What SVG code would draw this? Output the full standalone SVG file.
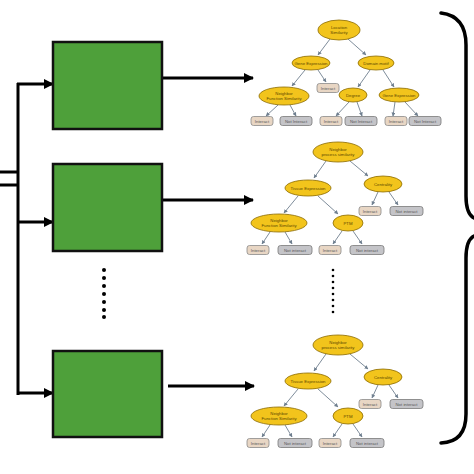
<svg xmlns="http://www.w3.org/2000/svg" width="474" height="474" viewBox="0 0 474 474">
<defs>
<marker id="ah" viewBox="0 0 10 10" refX="9" refY="5" markerWidth="10" markerHeight="10" markerUnits="userSpaceOnUse" orient="auto">
<path d="M0,0 L10,5 L0,10 z" fill="#000"/>
</marker>
<marker id="th" viewBox="0 0 10 10" refX="9" refY="5" markerWidth="4" markerHeight="4" markerUnits="userSpaceOnUse" orient="auto">
<path d="M0,0 L10,5 L0,10 z" fill="#6f7f8f"/>
</marker>
<style>
.box{fill:#4ea03a;stroke:#111;stroke-width:2.5}
.ln{fill:none;stroke:#000;stroke-width:3}
.br{fill:none;stroke:#000;stroke-width:3.5;stroke-linecap:round}
.el{fill:#f2c41c;stroke:#8a6a00;stroke-width:0.8}
.ti{fill:#e8d6c4;stroke:#8a8a8a;stroke-width:0.8}
.tn{fill:#c4c4c8;stroke:#7a7a7a;stroke-width:0.8}
.te{fill:none;stroke:#6f7f8f;stroke-width:0.9}
text{font-family:"Liberation Sans",Arial,sans-serif;font-size:4.3px;fill:#5a4600;text-anchor:middle}
.lt{fill:#555}
</style>
</defs>
<rect width="474" height="474" fill="#fff"/>

<g id="connectors">
<line class="ln" x1="0" y1="172" x2="19" y2="172"/>
<line class="ln" x1="0" y1="185" x2="19" y2="185"/>
<line class="ln" x1="18" y1="83" x2="18" y2="395"/>
<line class="ln" x1="17" y1="84" x2="53" y2="84" marker-end="url(#ah)"/>
<line class="ln" x1="17" y1="222" x2="53" y2="222" marker-end="url(#ah)"/>
<line class="ln" x1="17" y1="393" x2="53" y2="393" marker-end="url(#ah)"/>
<line class="ln" x1="162" y1="78" x2="253" y2="78" marker-end="url(#ah)"/>
<line class="ln" x1="162" y1="200" x2="253" y2="200" marker-end="url(#ah)"/>
<line class="ln" x1="168" y1="386" x2="254" y2="386" marker-end="url(#ah)"/>
</g>

<g id="box1"><rect class="box" x="53" y="42" width="109" height="87"/></g>
<g id="box2"><rect class="box" x="53" y="164" width="109" height="87"/></g>
<g id="box3"><rect class="box" x="53" y="351" width="109" height="86"/></g>

<g id="dots" fill="#000">
<circle cx="104" cy="270" r="2"/>
<circle cx="104" cy="278" r="2"/>
<circle cx="104" cy="286" r="2"/>
<circle cx="104" cy="294" r="2"/>
<circle cx="104" cy="302" r="2"/>
<circle cx="104" cy="310" r="2"/>
<circle cx="104" cy="317" r="2"/>
</g>
<g id="dots2" fill="#000">
<circle cx="333" cy="270" r="1.3"/>
<circle cx="333" cy="276" r="1.3"/>
<circle cx="333" cy="282" r="1.3"/>
<circle cx="333" cy="288" r="1.3"/>
<circle cx="333" cy="294" r="1.3"/>
<circle cx="333" cy="300" r="1.3"/>
<circle cx="333" cy="306" r="1.3"/>
<circle cx="333" cy="312" r="1.3"/>
</g>

<g id="brace">
<path class="br" d="M441,13 Q466,16 466,45 L466,196 Q466,214 474,218"/>
<path class="br" d="M474,236 Q466,240 466,258 L466,414 Q466,442 441,443"/>
</g>

<g id="tree1">
<g class="tedges">
<line class="te" x1="330" y1="39" x2="318" y2="55" marker-end="url(#th)"/>
<line class="te" x1="348" y1="39" x2="366" y2="55" marker-end="url(#th)"/>
<line class="te" x1="305" y1="70" x2="292" y2="86" marker-end="url(#th)"/>
<line class="te" x1="318" y1="70" x2="326" y2="82" marker-end="url(#th)"/>
<line class="te" x1="370" y1="70" x2="358" y2="87" marker-end="url(#th)"/>
<line class="te" x1="383" y1="70" x2="394" y2="87" marker-end="url(#th)"/>
<line class="te" x1="278" y1="105" x2="266" y2="116" marker-end="url(#th)"/>
<line class="te" x1="290" y1="105" x2="296" y2="116" marker-end="url(#th)"/>
<line class="te" x1="349" y1="102" x2="336" y2="116" marker-end="url(#th)"/>
<line class="te" x1="357" y1="102" x2="362" y2="116" marker-end="url(#th)"/>
<line class="te" x1="395" y1="102" x2="393" y2="116" marker-end="url(#th)"/>
<line class="te" x1="405" y1="102" x2="418" y2="116" marker-end="url(#th)"/>
</g>
<g id="t1-root"><ellipse class="el" cx="339" cy="30" rx="21" ry="10"/><text x="339" y="28.5">Location</text><text x="339" y="34">Similarity</text></g>
<g id="t1-ge"><ellipse class="el" cx="311" cy="63" rx="19" ry="7"/><text x="311" y="64.5">Gene Expression</text></g>
<g id="t1-dm"><ellipse class="el" cx="376" cy="63" rx="18" ry="7"/><text x="376" y="64.5">Domain motif</text></g>
<g id="t1-nfs"><ellipse class="el" cx="284" cy="96" rx="25" ry="9"/><text x="284" y="94.5">Neighbor</text><text x="284" y="100">Function Similarity</text></g>
<g id="t1-i0"><rect class="ti" x="317" y="83.5" width="22" height="9" rx="2.5"/><text class="lt" x="328" y="89.5">Interact</text></g>
<g id="t1-deg"><ellipse class="el" cx="353" cy="95" rx="14" ry="7"/><text x="353" y="96.5">Degree</text></g>
<g id="t1-ge2"><ellipse class="el" cx="399" cy="95" rx="20" ry="7"/><text x="399" y="96.5">Gene Expression</text></g>
<g id="t1-l1"><rect class="ti" x="251" y="116.5" width="22" height="9" rx="2.5"/><text class="lt" x="262" y="122.5">Interact</text></g>
<g id="t1-l2"><rect class="tn" x="280" y="116.5" width="32" height="9" rx="2.5"/><text class="lt" x="296" y="122.5">Not Interact</text></g>
<g id="t1-l3"><rect class="ti" x="320" y="116.5" width="22" height="9" rx="2.5"/><text class="lt" x="331" y="122.5">Interact</text></g>
<g id="t1-l4"><rect class="tn" x="345" y="116.5" width="32" height="9" rx="2.5"/><text class="lt" x="361" y="122.5">Not Interact</text></g>
<g id="t1-l5"><rect class="ti" x="385" y="116.5" width="22" height="9" rx="2.5"/><text class="lt" x="396" y="122.5">Interact</text></g>
<g id="t1-l6"><rect class="tn" x="409" y="116.5" width="32" height="9" rx="2.5"/><text class="lt" x="425" y="122.5">Not Interact</text></g>
</g>

<g id="tree2">
<g class="tedges">
<line class="te" x1="326" y1="161" x2="314" y2="178" marker-end="url(#th)"/>
<line class="te" x1="350" y1="161" x2="368" y2="176" marker-end="url(#th)"/>
<line class="te" x1="378" y1="192" x2="372" y2="205" marker-end="url(#th)"/>
<line class="te" x1="389" y1="192" x2="398" y2="205" marker-end="url(#th)"/>
<line class="te" x1="298" y1="196" x2="284" y2="213" marker-end="url(#th)"/>
<line class="te" x1="318" y1="196" x2="338" y2="214" marker-end="url(#th)"/>
<line class="te" x1="270" y1="232" x2="262" y2="244" marker-end="url(#th)"/>
<line class="te" x1="285" y1="232" x2="292" y2="244" marker-end="url(#th)"/>
<line class="te" x1="342" y1="231" x2="333" y2="244" marker-end="url(#th)"/>
<line class="te" x1="353" y1="231" x2="362" y2="244" marker-end="url(#th)"/>
</g>
<g id="t2-root"><ellipse class="el" cx="338" cy="152" rx="25" ry="10"/><text x="338" y="150.5">Neighbor</text><text x="338" y="156">process similarity</text></g>
<g id="t2-te"><ellipse class="el" cx="308" cy="188" rx="23" ry="8"/><text x="308" y="189.5">Tissue Expression</text></g>
<g id="t2-ce"><ellipse class="el" cx="383" cy="184" rx="19" ry="8"/><text x="383" y="185.5">Centrality</text></g>
<g id="t2-i0"><rect class="ti" x="359" y="206.5" width="22" height="9" rx="2.5"/><text class="lt" x="370" y="212.5">Interact</text></g>
<g id="t2-n0"><rect class="tn" x="390" y="206.5" width="33" height="9" rx="2.5"/><text class="lt" x="406.5" y="212.5">Not interact</text></g>
<g id="t2-nfs"><ellipse class="el" cx="279" cy="223" rx="28" ry="9"/><text x="279" y="221.5">Neighbor</text><text x="279" y="227">Function Similarity</text></g>
<g id="t2-ptm"><ellipse class="el" cx="348" cy="223" rx="15" ry="8"/><text x="348" y="224.5">PTM</text></g>
<g id="t2-l1"><rect class="ti" x="247" y="245.5" width="22" height="9" rx="2.5"/><text class="lt" x="258" y="251.5">Interact</text></g>
<g id="t2-l2"><rect class="tn" x="278" y="245.5" width="34" height="9" rx="2.5"/><text class="lt" x="295" y="251.5">Not interact</text></g>
<g id="t2-l3"><rect class="ti" x="319" y="245.5" width="22" height="9" rx="2.5"/><text class="lt" x="330" y="251.5">Interact</text></g>
<g id="t2-l4"><rect class="tn" x="350" y="245.5" width="34" height="9" rx="2.5"/><text class="lt" x="367" y="251.5">Not interact</text></g>
</g>

<g id="tree3" transform="translate(0,193)">
<g class="tedges">
<line class="te" x1="326" y1="161" x2="314" y2="178" marker-end="url(#th)"/>
<line class="te" x1="350" y1="161" x2="368" y2="176" marker-end="url(#th)"/>
<line class="te" x1="378" y1="192" x2="372" y2="205" marker-end="url(#th)"/>
<line class="te" x1="389" y1="192" x2="398" y2="205" marker-end="url(#th)"/>
<line class="te" x1="298" y1="196" x2="284" y2="213" marker-end="url(#th)"/>
<line class="te" x1="318" y1="196" x2="338" y2="214" marker-end="url(#th)"/>
<line class="te" x1="270" y1="232" x2="262" y2="244" marker-end="url(#th)"/>
<line class="te" x1="285" y1="232" x2="292" y2="244" marker-end="url(#th)"/>
<line class="te" x1="342" y1="231" x2="333" y2="244" marker-end="url(#th)"/>
<line class="te" x1="353" y1="231" x2="362" y2="244" marker-end="url(#th)"/>
</g>
<g id="t3-root"><ellipse class="el" cx="338" cy="152" rx="25" ry="10"/><text x="338" y="150.5">Neighbor</text><text x="338" y="156">process similarity</text></g>
<g id="t3-te"><ellipse class="el" cx="308" cy="188" rx="23" ry="8"/><text x="308" y="189.5">Tissue Expression</text></g>
<g id="t3-ce"><ellipse class="el" cx="383" cy="184" rx="19" ry="8"/><text x="383" y="185.5">Centrality</text></g>
<g id="t3-i0"><rect class="ti" x="359" y="206.5" width="22" height="9" rx="2.5"/><text class="lt" x="370" y="212.5">Interact</text></g>
<g id="t3-n0"><rect class="tn" x="390" y="206.5" width="33" height="9" rx="2.5"/><text class="lt" x="406.5" y="212.5">Not interact</text></g>
<g id="t3-nfs"><ellipse class="el" cx="279" cy="223" rx="28" ry="9"/><text x="279" y="221.5">Neighbor</text><text x="279" y="227">Function Similarity</text></g>
<g id="t3-ptm"><ellipse class="el" cx="348" cy="223" rx="15" ry="8"/><text x="348" y="224.5">PTM</text></g>
<g id="t3-l1"><rect class="ti" x="247" y="245.5" width="22" height="9" rx="2.5"/><text class="lt" x="258" y="251.5">Interact</text></g>
<g id="t3-l2"><rect class="tn" x="278" y="245.5" width="34" height="9" rx="2.5"/><text class="lt" x="295" y="251.5">Not interact</text></g>
<g id="t3-l3"><rect class="ti" x="319" y="245.5" width="22" height="9" rx="2.5"/><text class="lt" x="330" y="251.5">Interact</text></g>
<g id="t3-l4"><rect class="tn" x="350" y="245.5" width="34" height="9" rx="2.5"/><text class="lt" x="367" y="251.5">Not interact</text></g>
</g>
</svg>
